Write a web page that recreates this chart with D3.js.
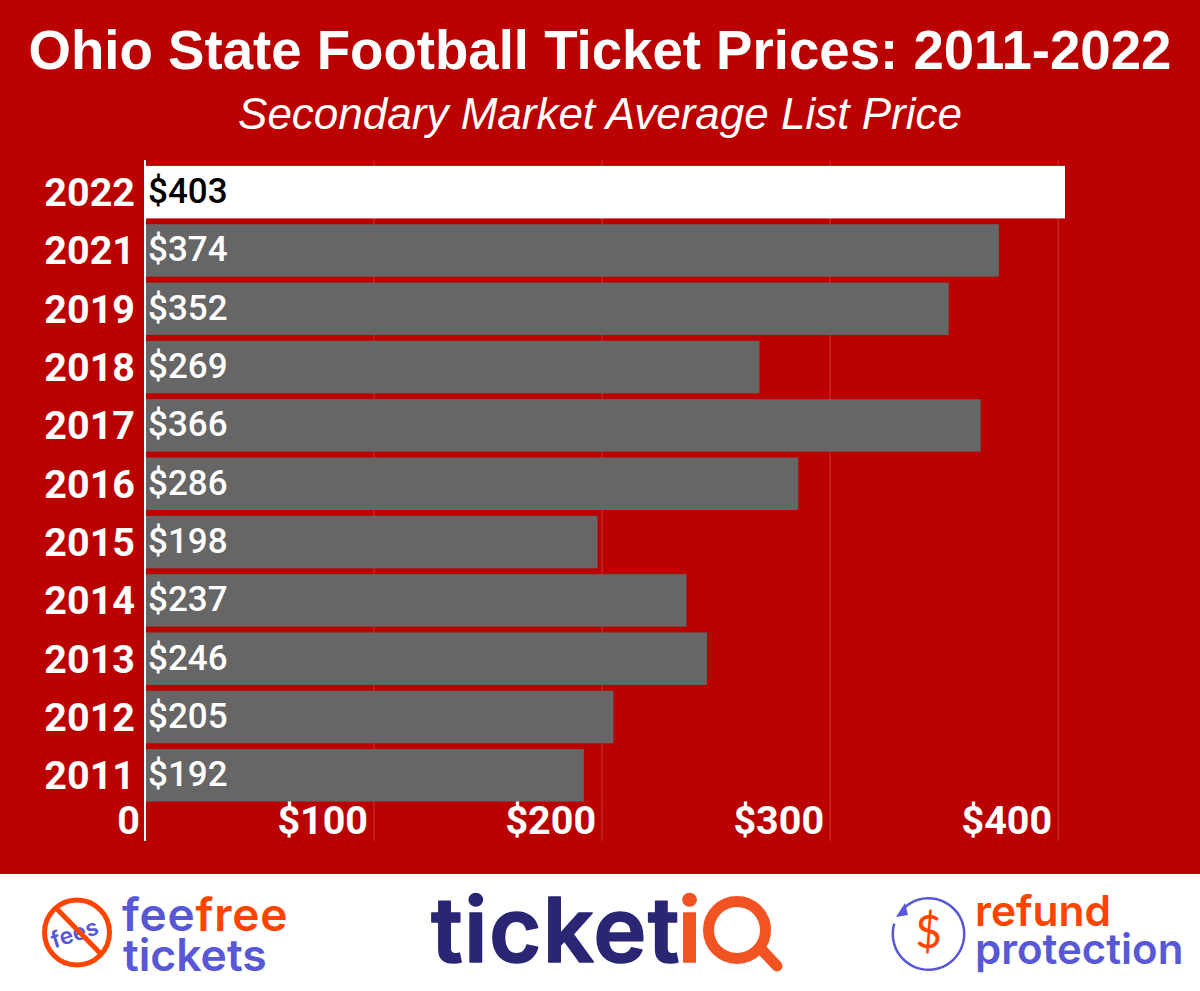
<!DOCTYPE html>
<html>
<head>
<meta charset="utf-8">
<script src="https://cdn.jsdelivr.net/npm/d3@7/dist/d3.min.js"></script>
<style>
  html, body { margin: 0; padding: 0; background: #fff; }
  svg { display: block; }
  .ax { font-family: Roboto, sans-serif; font-weight: 700; fill: #fff; }
  .logo { font-family: Inter, sans-serif; font-weight: 600; }
</style>
</head>
<body>
<svg id="chart" width="1200" height="991"></svg>
<script>
// Average list price per season (no 2020 season listed)
const years = ["2022", "2021", "2019", "2018", "2017", "2016", "2015", "2014", "2013", "2012", "2011"];
const prices = [403, 374, 352, 269, 366, 286, 198, 237, 246, 205, 192];
const highlightYear = "2022";
const xTicks = [0, 100, 200, 300, 400];

const RED = "#bb0000", GREY = "#666666";
const INDIGO = "#5858d6", ORANGE = "#ff4400", NAVY = "#2b2673", IQ = "#f25322";

const svg = d3.select("#chart");
svg.append("rect").attr("width", 1200).attr("height", 874).attr("fill", RED);

// Heading
svg.append("text").attr("x", 600).attr("y", 69).attr("text-anchor", "middle")
  .attr("font-family", "Liberation Sans, Arial, sans-serif").attr("font-weight", 700)
  .attr("font-size", 54.6).attr("fill", "#fff")
  .text("Ohio State Football Ticket Prices: 2011-2022");
svg.append("text").attr("x", 600).attr("y", 129).attr("text-anchor", "middle")
  .attr("font-family", "Liberation Sans, Arial, sans-serif").attr("font-style", "italic")
  .attr("font-size", 44).attr("fill", "#fff")
  .text("Secondary Market Average List Price");

// Scales
const x = d3.scaleLinear().domain([0, 403]).range([146, 1065]);
const y = d3.scaleBand().domain(years).range([163, 804.5]).paddingInner(0.1).paddingOuter(0.05);

// Vertical grid lines
svg.append("g").selectAll("line").data(xTicks.slice(1)).join("line")
  .attr("x1", d => x(d)).attr("x2", d => x(d))
  .attr("y1", 160).attr("y2", 841)
  .attr("stroke", "#fff").attr("stroke-opacity", 0.22).attr("stroke-width", 1);

// Bars
svg.append("g").selectAll("rect").data(years).join("rect")
  .attr("x", x(0))
  .attr("y", d => y(d))
  .attr("width", (d, i) => x(prices[i]) - x(0))
  .attr("height", y.bandwidth())
  .attr("fill", d => d === highlightYear ? "#fff" : GREY);

// Baseline
svg.append("line").attr("x1", 145).attr("x2", 145).attr("y1", 160).attr("y2", 841)
  .attr("stroke", "#fff").attr("stroke-width", 2);

// Value labels inside the bars
svg.append("g").selectAll("text").data(years).join("text")
  .attr("x", 148)
  .attr("y", d => y(d) + y.bandwidth() / 2 + 11)
  .attr("font-family", "Roboto, sans-serif").attr("font-weight", 500).attr("font-size", 35)
  .attr("fill", d => d === highlightYear ? "#000" : "#fff")
  .text((d, i) => "$" + prices[i]);

// Year labels
svg.append("g").selectAll("text").data(years).join("text")
  .attr("class", "ax")
  .attr("x", 135).attr("text-anchor", "end").attr("font-size", 39.5)
  .attr("y", d => y(d) + y.bandwidth() / 2 + 14)
  .text(d => d);

// Price axis labels
svg.append("g").selectAll("text").data(xTicks).join("text")
  .attr("class", "ax")
  .attr("x", d => x(d) - 6).attr("y", 834).attr("text-anchor", "end").attr("font-size", 39.5)
  .text(d => d === 0 ? "0" : "$" + d);

// Fee-free badge
const fee = svg.append("g");
fee.append("circle").attr("cx", 77).attr("cy", 932.5).attr("r", 32.5)
  .attr("fill", "#fff").attr("stroke", ORANGE).attr("stroke-width", 5);
fee.append("text").attr("class", "logo").attr("transform", "translate(77,941) rotate(-18)")
  .attr("text-anchor", "middle").attr("font-size", 23).attr("fill", INDIGO).text("fees");
fee.append("line").attr("x1", 55).attr("y1", 907).attr("x2", 100).attr("y2", 953)
  .attr("stroke", ORANGE).attr("stroke-width", 5);

const feeLine = svg.append("text").attr("class", "logo").attr("x", 122).attr("y", 931)
  .attr("font-size", 46).attr("letter-spacing", 0.8);
feeLine.append("tspan").attr("fill", INDIGO).text("fee");
feeLine.append("tspan").attr("fill", ORANGE).text("free");
svg.append("text").attr("class", "logo").attr("x", 123).attr("y", 971).attr("font-size", 44.5)
  .attr("fill", INDIGO).text("tickets");

// Centre wordmark
svg.append("text").attr("class", "logo").attr("x", 431).attr("y", 962).attr("font-size", 90)
  .attr("font-weight", 500).attr("letter-spacing", 1.3).attr("fill", NAVY).attr("stroke", NAVY)
  .attr("stroke-width", 1.5).attr("stroke-linejoin", "round").text("ticket");
svg.append("text").attr("class", "logo").attr("x", 689.5).attr("y", 962).attr("font-size", 90)
  .attr("font-weight", 500).attr("text-anchor", "middle").attr("fill", IQ).attr("stroke", IQ)
  .attr("stroke-width", 1.5).attr("stroke-linejoin", "round").text("i");
svg.append("circle").attr("cx", 737).attr("cy", 930).attr("r", 28.5)
  .attr("fill", "none").attr("stroke", IQ).attr("stroke-width", 11);
svg.append("line").attr("x1", 762).attr("y1", 950).attr("x2", 777).attr("y2", 966)
  .attr("stroke", IQ).attr("stroke-width", 11).attr("stroke-linecap", "round");

// Refund badge
const deg = Math.PI / 180;
const arc = d3.arc().innerRadius(34.5).outerRadius(37);
svg.append("path").attr("transform", "translate(928.5,934)")
  .attr("d", arc({ startAngle: -43 * deg, endAngle: 287 * deg })).attr("fill", INDIGO);
svg.append("path").attr("d", d3.line()([[905, 903], [896, 917], [908, 915]]) + "Z").attr("fill", INDIGO);
svg.append("text").attr("x", 928.5).attr("y", 948).attr("text-anchor", "middle")
  .attr("font-family", "Lato, sans-serif").attr("font-weight", 400).attr("font-size", 46)
  .attr("fill", ORANGE).text("$");
svg.append("text").attr("class", "logo").attr("x", 975).attr("y", 926).attr("font-size", 42.5)
  .attr("fill", ORANGE).text("refund");
svg.append("text").attr("class", "logo").attr("x", 975).attr("y", 964).attr("font-size", 42)
  .attr("fill", INDIGO).text("protection");
</script>
</body>
</html>
